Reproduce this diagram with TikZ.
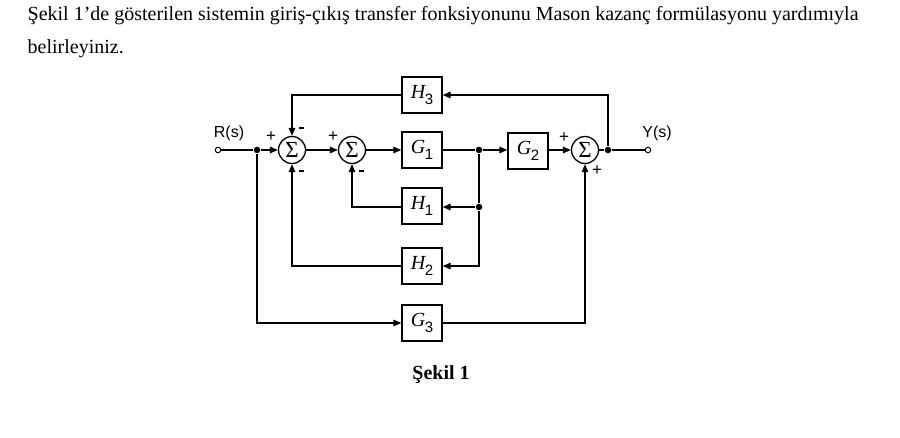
\documentclass[tikz,border=0pt]{standalone}
\usepackage{fontspec}
\setmainfont{Liberation Serif}
\setsansfont{Liberation Sans}
\usetikzlibrary{arrows.meta}
\newcommand{\blk}[2]{\fontsize{20}{20}\selectfont\itshape #1\kern-0.5pt\raisebox{-5.5pt}{\upshape\sffamily\fontsize{15}{15}\selectfont #2}}
\begin{document}
\begin{tikzpicture}[x=1pt,y=-1pt,
  every path/.style={line width=1.3pt},
  box/.style={draw,line width=1.3pt,minimum width=40pt,minimum height=36pt,inner sep=0pt},
  sumc/.style={draw,circle,line width=1.3pt,minimum size=27pt,inner sep=0pt,font=\fontsize{23}{23}\selectfont},
  dot/.style={circle,fill,minimum size=6.5pt,inner sep=0pt},
  port/.style={circle,draw,fill=white,line width=1pt,minimum size=5.5pt,inner sep=0pt},
  sgn/.style={font=\sffamily\fontsize{17}{17}\selectfont,inner sep=0pt},
  mns/.style={fill,minimum width=5pt,minimum height=1.8pt,inner sep=0pt},
  arr/.style={-{Triangle[length=8pt,width=6.5pt]}},
  txt/.style={anchor=base west,inner sep=0pt,font=\fontsize{20}{20}\selectfont}]
\useasboundingbox (0,0) rectangle (900,438);
\node[txt] (t1) at (27,21) {Şekil 1’de gösterilen sistemin giriş-çıkış transfer fonksiyonunu Mason kazanç formülasyonu yardımıyla};
\node[txt] (t2) at (27,54) {belirleyiniz.};
% nodes
\node[port] (in) at (218,150) {};
\node[dot] (d1) at (257,150) {};
\node[sumc] (s1) at (292,150) {Σ};
\node[sumc] (s2) at (352,150) {Σ};
\node[box] (G1) at (422,150) {\blk{G}{1}};
\node[dot] (d2) at (479,150) {};
\node[box] (G2) at (528,151) {\blk{G}{2}};
\node[sumc] (s3) at (585,150) {Σ};
\node[dot] (d3) at (608,150) {};
\node[port] (out) at (648,150) {};
\node[box] (H3) at (422,95) {\blk{H}{3}};
\node[box] (H1) at (422,206) {\blk{H}{1}};
\node[dot] (d4) at (479,207) {};
\node[box] (H2) at (422,266) {\blk{H}{2}};
\node[box] (G3) at (422,323) {\blk{G}{3}};
% labels
\node[anchor=base,inner sep=0pt,font=\sffamily\fontsize{16}{16}\selectfont] (R) at (229,138) {R(s)};
\node[anchor=base,inner sep=0pt,font=\sffamily\fontsize{16}{16}\selectfont] (Y) at (657,138) {Y(s)};
\node[sgn] (p1) at (271,137) {+};
\node[mns] (m1) at (301,128) {};
\node[mns] (m2) at (301,171) {};
\node[sgn] (p2) at (333,137) {+};
\node[mns] (m3) at (361,171) {};
\node[sgn] (p3) at (564,138) {+};
\node[sgn] (p4) at (597,171) {+};
% connectors
\draw (in) -- (d1);
\draw[arr] (d1) -- (s1);
\draw[arr] (s1) -- (s2);
\draw[arr] (s2) -- (G1);
\draw (G1) -- (d2);
\draw[arr] (d2) -- (G2.west |- d2);
\draw[arr] (G2.east |- s3) -- (s3);
\draw (s3) -- (d3);
\draw (d3) -- (out);
\draw[arr] (d3) |- (H3);
\draw[arr] (H3) -| (s1);
\draw (d2) -- (d4);
\draw[arr] (d4) -- (H1.east |- d4);
\draw[arr] (d4) |- (H2);
\draw[arr] (H1.west |- d4) -| (s2);
\draw[arr] (H2) -| (s1);
\draw[arr] (d1) |- (G3);
\draw[arr] (G3) -| (s3);
\node[anchor=base,inner sep=0pt,font=\bfseries\fontsize{20}{20}\selectfont] (cap) at (441,380) {Şekil 1};
\end{tikzpicture}
\end{document}
